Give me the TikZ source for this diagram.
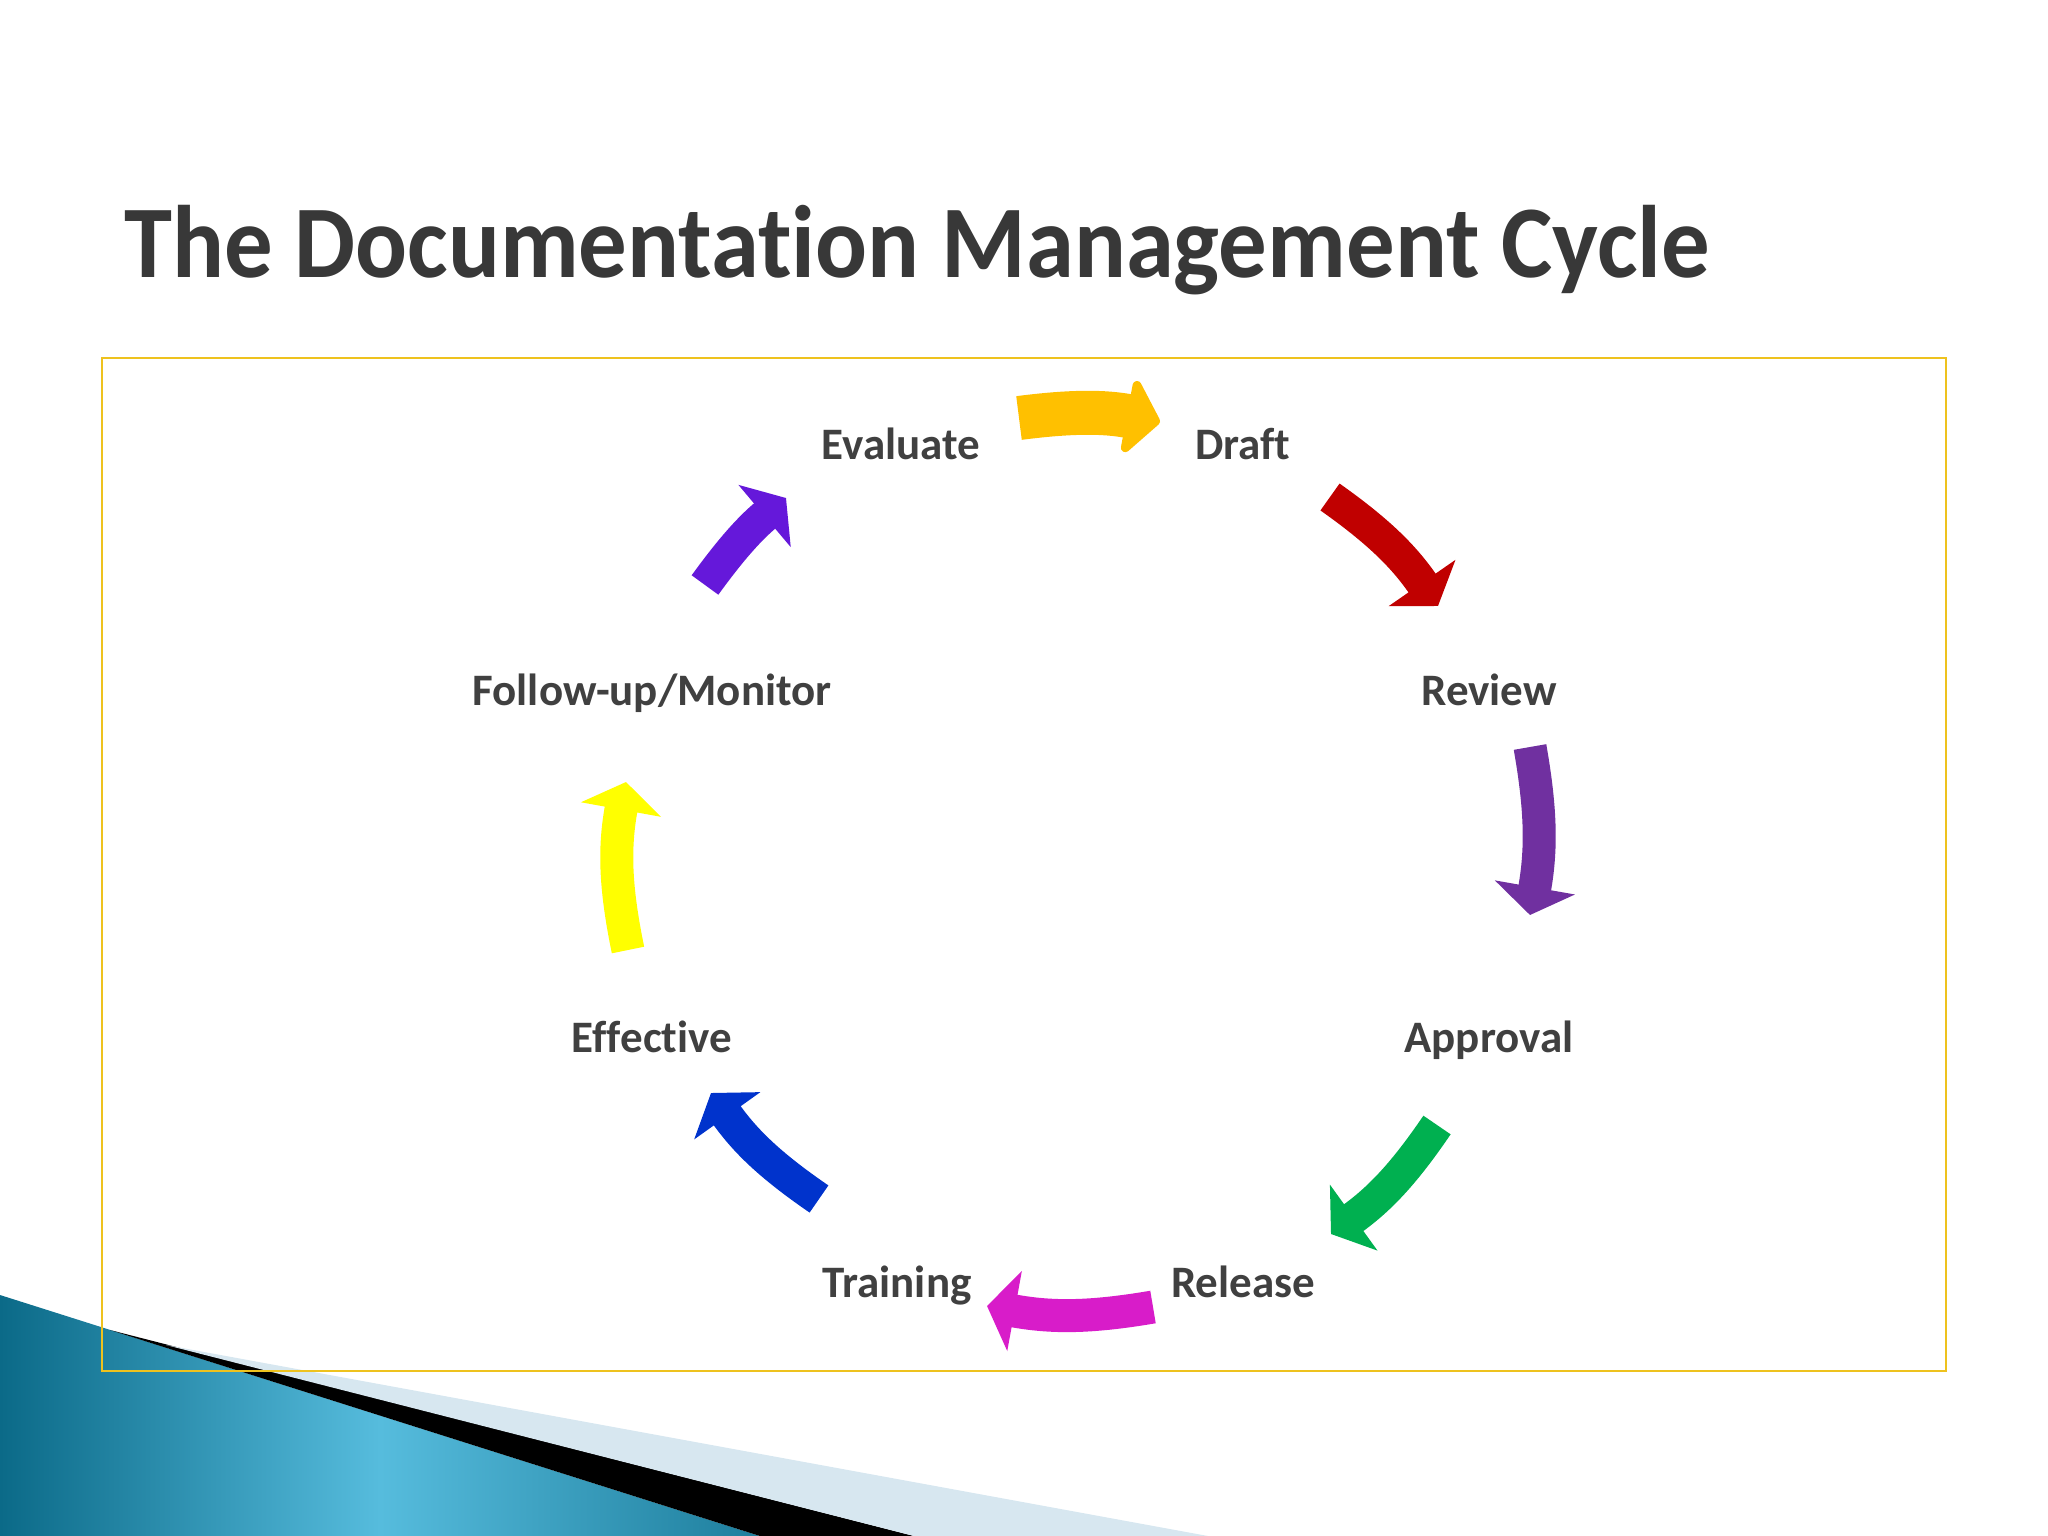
\documentclass[tikz,border=0pt]{standalone}
\usepackage{fontspec}
\setmainfont{Carlito}[Ligatures=NoCommon]
\newfontfamily\titlefont{Carlito}[Ligatures=NoCommon, FakeStretch=0.94]
\usetikzlibrary{arrows.meta}

\definecolor{labelgray}{HTML}{404040}
\definecolor{boxgold}{HTML}{EEC21E}
\definecolor{arrgold}{HTML}{FFC000}
\definecolor{arrred}{HTML}{C00000}
\definecolor{arrpurple}{HTML}{7030A0}
\definecolor{arrgreen}{HTML}{00B050}
\definecolor{arrmagenta}{HTML}{D81CC9}
\definecolor{arrblue}{HTML}{0033CC}
\definecolor{arryellow}{HTML}{FFFF00}
\definecolor{arrviolet}{HTML}{6518DA}
\definecolor{tealdark}{HTML}{0B6A88}
\definecolor{teallight}{HTML}{56BCDD}
\definecolor{paleblue}{HTML}{D7E7F0}

\tikzset{
  stage/.style={font=\fontsize{45}{52}\selectfont\bfseries, text=labelgray,
    anchor=base, inner sep=0pt},
  cycarrow/.style={line width=33pt, -{Triangle[length=28pt,width=80pt]}, draw=#1},
}

\begin{document}
\begin{tikzpicture}[x=1pt,y=-1pt]
  \useasboundingbox (0,0) rectangle (2048,1536);

  % corner decoration
  \shade[left color=tealdark, right color=tealdark!75!teallight, middle color=teallight]
    (0,1295) -- (760,1536) -- (0,1536) -- cycle;
  \fill[black] (110,1330) -- (914,1536) -- (760,1536) -- cycle;
  \fill[paleblue] (166,1345) -- (1208,1536) -- (914,1536) -- cycle;

  % title
  \node[anchor=base west, inner sep=0pt, text=black!78,
    font=\titlefont\fontsize{103}{110}\selectfont\bfseries] (title) at (124,277)
    {The Documentation Management Cycle};

  \draw[boxgold, line width=2pt] (102,358) rectangle (1946,1371);

  % stages
  \node[stage] (evaluate) at (901,459) {Evaluate};
  \node[stage] (draft) at (1243,459) {Draft};
  \node[stage] (review) at (1489,705) {Review};
  \node[stage] (approval) at (1489,1052) {Approval};
  \node[stage] (release) at (1243,1297) {Release};
  \node[stage] (training) at (897,1297) {Training};
  \node[stage] (effective) at (652,1052) {Effective};
  \node[stage] (followup) at (652,705) {Follow-up/Monitor};

  % arrow ends
  \coordinate (t1) at (1019,418);  \coordinate (h1) at (1160,422);
  \coordinate (t2) at (1330,497);  \coordinate (h2) at (1438,606);
  \coordinate (t3) at (1530,747);  \coordinate (h3) at (1530,915);
  \coordinate (t4) at (1437,1125); \coordinate (h4) at (1331,1234);
  \coordinate (t5) at (1153,1307); \coordinate (h5) at (987,1306);
  \coordinate (t6) at (819,1199);  \coordinate (h6) at (711,1093);
  \coordinate (t7) at (628,950);   \coordinate (h7) at (626,782);
  \coordinate (t8) at (705,585);   \coordinate (h8) at (786,498);

  \draw[line width=44pt, arrgold, line join=round,
    -{Triangle[round,length=35pt,width=87pt]}] (t1) to[bend left=9] (h1);
  \draw[cycarrow=arrred] (t2) to[bend left=10] (h2);
  \draw[cycarrow=arrpurple] (t3) to[bend left=10] (h3);
  \draw[cycarrow=arrgreen] (t4) to[bend left=10] (h4);
  \draw[cycarrow=arrmagenta] (t5) to[bend left=10] (h5);
  \draw[cycarrow=arrblue] (t6) to[bend left=10] (h6);
  \draw[cycarrow=arryellow] (t7) to[bend left=11] (h7);
  \draw[cycarrow=arrviolet] (t8) to[bend left=7] (h8);
\end{tikzpicture}
\end{document}
